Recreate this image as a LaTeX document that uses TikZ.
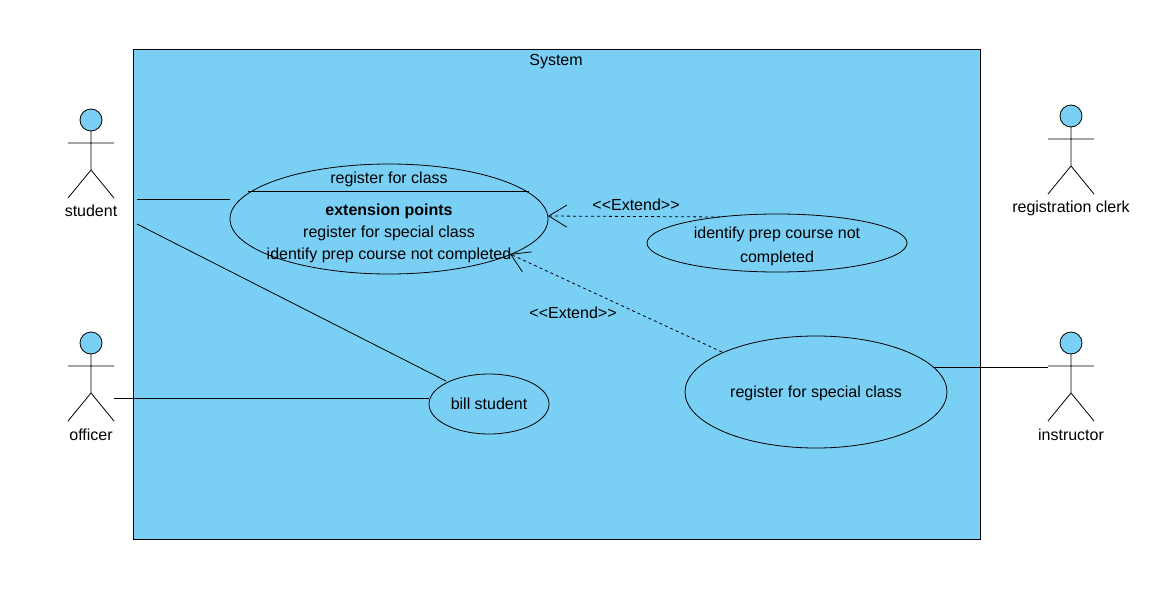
\documentclass[tikz,border=0pt]{standalone}
\usepackage{fontspec}
\setmainfont{Liberation Sans}
\newfontfamily\plainfont{Liberation Sans}
\usetikzlibrary{arrows.meta}
\definecolor{uc}{HTML}{7ACFF5}
\begin{document}
\begin{tikzpicture}[x=1pt,y=-1pt,
  txt/.style={font=\fontsize{16}{18}\selectfont, inner sep=0pt},
  ext/.style={draw, dashed, line width=0.8pt, -{Straight Barb[length=18pt,width=22pt,line width=0.8pt]}}]
\useasboundingbox (0,0) rectangle (1169,594);
\fill[white] (0,0) rectangle (1169,594);
\draw[fill=uc, line width=0.8pt] (133,49) rectangle (980,539);
\node[txt] (sys) at (556,62) {System};
% actors
\newcommand{\actor}[3]{%
  \draw[fill=uc, line width=0.8pt] (#1,#2) circle (11);
  \draw[line width=0.8pt] (#1,#2+11) -- (#1,#2+50) (#1-23,#2+23) -- (#1+23,#2+23)
    (#1-23,#2+78) -- (#1,#2+50) -- (#1+23,#2+78);
  \node[txt] (#3) at (#1,#2+91) {};}
\actor{91}{120}{student}\node[txt] at (91,211) {student};
\actor{91}{343}{officer}\node[txt] at (91,435) {officer};
\actor{1071}{116}{clerk}\node[txt] at (1071,208) {registration clerk};
\actor{1071}{343}{instr}\node[txt] at (1071,435) {instructor};
% use cases
\draw[fill=uc, line width=0.8pt] (389,219) ellipse (159 and 55);
\draw[line width=0.8pt] (248,191) -- (529,191);
\node[txt] at (389,179) {register for class};
\node[txt] at (389,211) {\bfseries extension points};
\node[txt] at (389,233) {register for special class};
\node[txt] at (389,255) {identify prep course not completed};
\draw[fill=uc, line width=0.8pt] (777,243) ellipse (130 and 29);
\node[txt, align=center] (ip) at (777,246) {identify prep course not\\[6pt]completed};
\draw[fill=uc, line width=0.8pt] (816,392) ellipse (131 and 56);
\node[txt] (rs) at (816,393) {register for special class};
\draw[fill=uc, line width=0.8pt] (489,404) ellipse (60 and 30);
\node[txt] (bs) at (489,404) {bill student};
% connectors
\coordinate (s1) at (137,199); \coordinate (s1e) at (230,199);
\coordinate (s2) at (137,224); \coordinate (s2e) at (446,381);
\coordinate (o1) at (114,398); \coordinate (o1e) at (429,398);
\coordinate (i1) at (1048,367); \coordinate (i1e) at (933,367);
\draw[line width=0.8pt] (s1) -- (s1e);
\draw[line width=0.8pt] (s2) -- (s2e);
\draw[line width=0.8pt] (o1) -- (o1e);
\draw[line width=0.8pt] (i1) -- (i1e);
\coordinate (e1s) at (720,217); \coordinate (e1e) at (548,216);
\coordinate (e2s) at (722,352); \coordinate (e2e) at (510,254);
\draw[ext] (e1s) -- (e1e);
\draw[ext] (e2s) -- (e2e);
\node[txt] at (636,205) {\plainfont <<Extend>>};
\node[txt] at (573,313) {\plainfont <<Extend>>};
\end{tikzpicture}
\end{document}
